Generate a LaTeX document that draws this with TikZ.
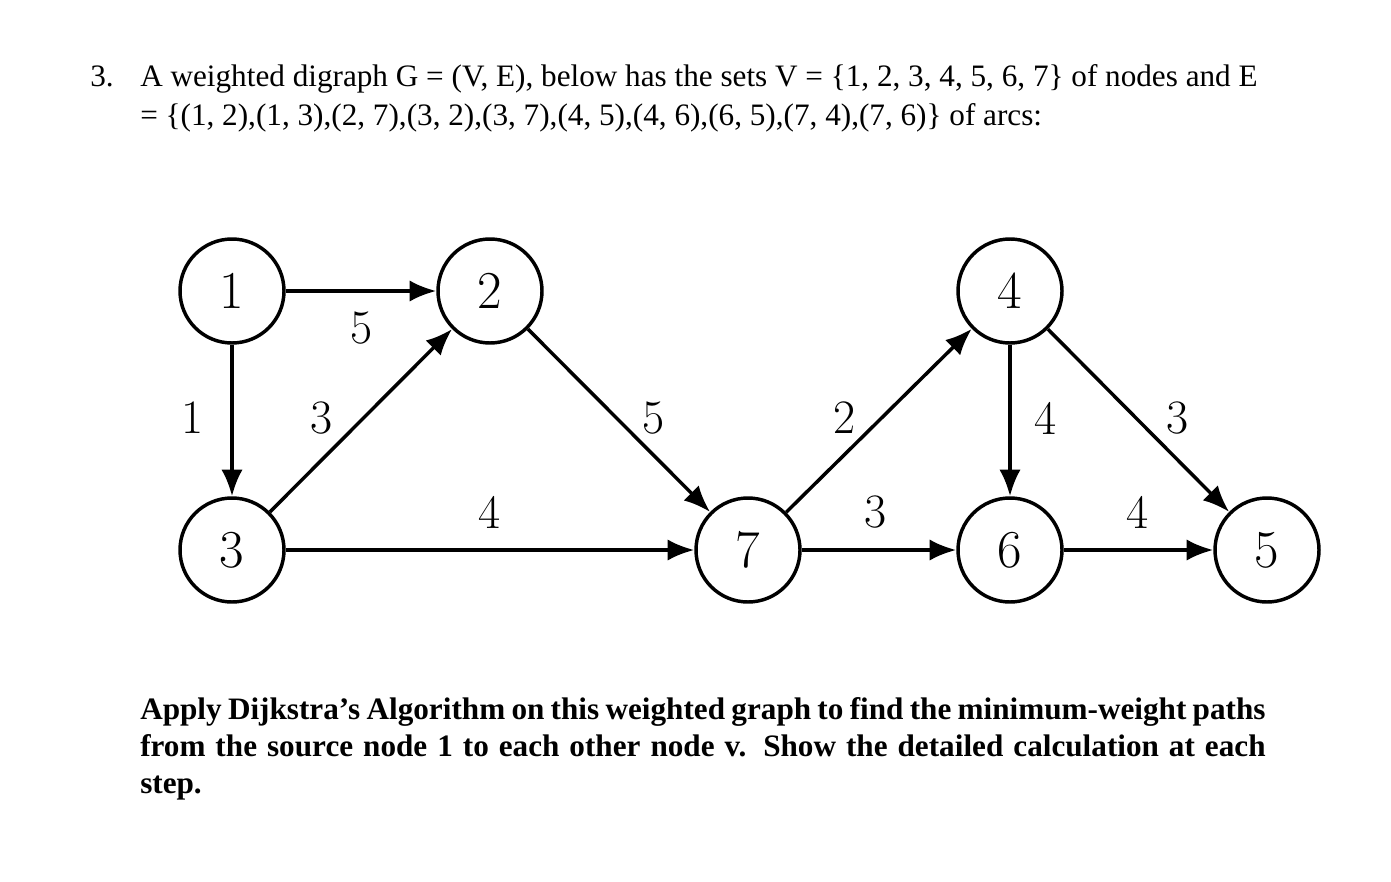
\documentclass[tikz,border=0pt]{standalone}
\usepackage{fontspec}
\newfontfamily\tnr{Liberation Serif}
\usetikzlibrary{arrows.meta}
\begin{document}
\begin{tikzpicture}[x=0.75pt,y=-0.75pt,
  vert/.style={circle,draw,line width=2.6pt,minimum size=78pt,inner sep=0pt,font=\fontsize{40}{40}\selectfont},
  arc/.style={line width=2.6pt,-{Latex[length=20pt,width=16pt]}},
  wt/.style={font=\fontsize{36}{36}\selectfont},
  txt/.style={font=\tnr\fontsize{23.4}{28.5}\selectfont,inner sep=0pt,anchor=base west}]
\useasboundingbox (0,0) rectangle (1391,881);
\node[txt] (n3) at (90,87) {3.};
\node[txt] (l1) at (140,87) {A weighted digraph G = (V, E), below has the sets V = \{1, 2, 3, 4, 5, 6, 7\} of nodes and E};
\node[txt] (l2) at (140,125) {= \{(1, 2),(1, 3),(2, 7),(3, 2),(3, 7),(4, 5),(4, 6),(6, 5),(7, 4),(7, 6)\} of arcs:};
\node[vert] (v1) at (232,291) {1};
\node[vert] (v2) at (490,291) {2};
\node[vert] (v3) at (232,550) {3};
\node[vert] (v7) at (748,550) {7};
\node[vert] (v4) at (1010,291) {4};
\node[vert] (v6) at (1010,550) {6};
\node[vert] (v5) at (1267,550) {5};
\draw[arc] (v1) -- (v2);
\draw[arc] (v1) -- (v3);
\draw[arc] (v3) -- (v2);
\draw[arc] (v2) -- (v7);
\draw[arc] (v3) -- (v7);
\draw[arc] (v7) -- (v4);
\draw[arc] (v7) -- (v6);
\draw[arc] (v4) -- (v6);
\draw[arc] (v4) -- (v5);
\draw[arc] (v6) -- (v5);
\node[wt] (w12) at (362,328) {5};
\node[wt] (w13) at (193,418) {1};
\node[wt] (w32) at (322,418) {3};
\node[wt] (w27) at (654,418) {5};
\node[wt] (w37) at (490,512) {4};
\node[wt] (w74) at (845,418) {2};
\node[wt] (w76) at (876,512) {3};
\node[wt] (w46) at (1045,418) {4};
\node[wt] (w45) at (1177,418) {3};
\node[wt] (w65) at (1137,512) {4};
\node[font=\tnr\bfseries\fontsize{23.4}{28}\selectfont,anchor=north west,inner sep=0pt,text width=844pt,align=justify] (q) at (140,697)
{Apply Dijkstra’s Algorithm on this weighted graph to find the minimum-weight paths\linebreak from the source node 1 to each other node v. Show the detailed calculation at each\linebreak step.};
\end{tikzpicture}
\end{document}
